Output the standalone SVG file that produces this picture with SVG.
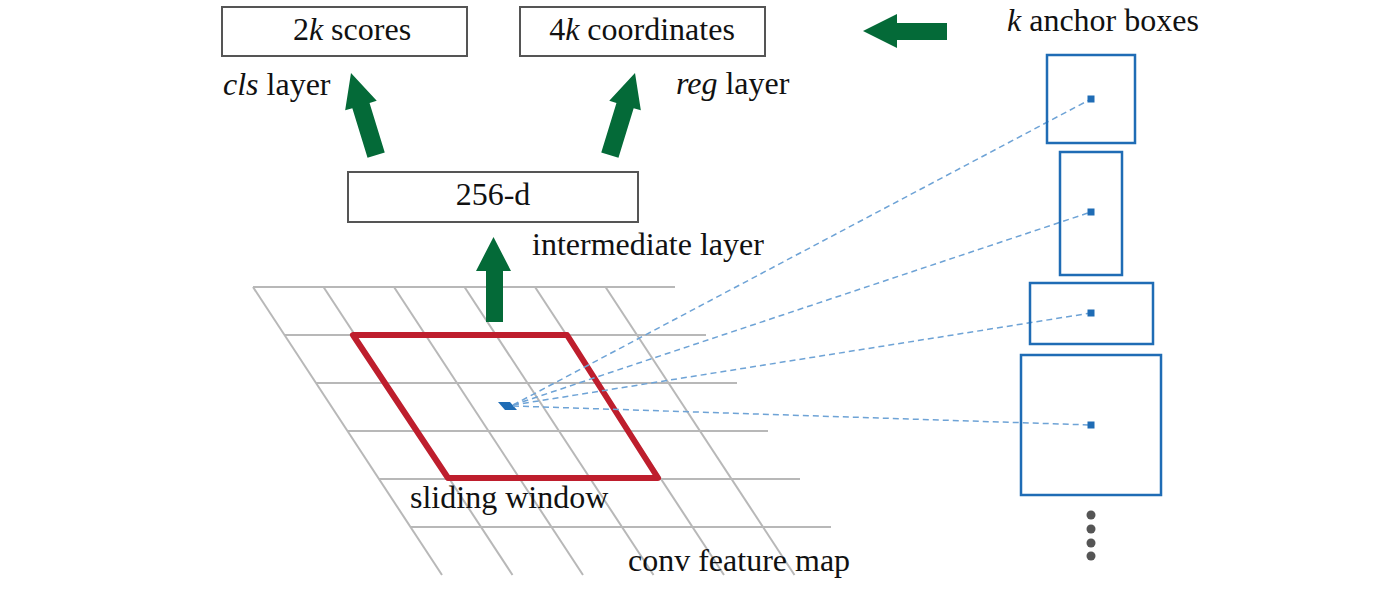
<svg xmlns="http://www.w3.org/2000/svg" width="1400" height="595" viewBox="0 0 1400 595">
<style>
text{font-family:"Liberation Serif","Times New Roman",serif;font-size:32px;fill:#111}
.it{font-style:italic}
.box{fill:#fff;stroke:#555;stroke-width:2}
.grid line{stroke:#b8b8b8;stroke-width:2}
.arrow{fill:#046a38}
.anchor{fill:none;stroke:#1f6cb5;stroke-width:2.5}
.dot{fill:#1f6cb5}
.dash{stroke:#6ea3d6;stroke-width:1.5;stroke-dasharray:6 4;fill:none}
.ell{fill:#555}
</style>
<defs>
<polygon id="upArrow" points="0,0 16.5,34 9,34 9,86 -9,86 -9,34 -16.5,34"/>
</defs>
<rect width="1400" height="595" fill="#fff"/>

<g id="grid" class="grid">
<line x1="253" y1="287" x2="675" y2="287"/>
<line x1="284.5" y1="335" x2="706" y2="335"/>
<line x1="316" y1="383" x2="737" y2="383"/>
<line x1="347.5" y1="431" x2="768" y2="431"/>
<line x1="379" y1="479" x2="800" y2="479"/>
<line x1="410.5" y1="527" x2="831" y2="527"/>
<line x1="253" y1="287" x2="442" y2="575"/>
<line x1="323.5" y1="287" x2="512.5" y2="575"/>
<line x1="394" y1="287" x2="583" y2="575"/>
<line x1="464.5" y1="287" x2="653.5" y2="575"/>
<line x1="535" y1="287" x2="724" y2="575"/>
<line x1="605.5" y1="287" x2="794.5" y2="575"/>
</g>

<g id="sliding-window">
<polygon points="353,335 567,335 658,478 448,478" fill="none" stroke="#be1e2d" stroke-width="6" stroke-linejoin="round"/>
<polygon points="498,402 510,402 517,410 505,410" class="dot"/>
<text x="410" y="508">sliding window</text>
</g>

<g id="connectors">
<line class="dash" x1="513" y1="405" x2="1091" y2="99"/>
<line class="dash" x1="513" y1="405" x2="1091" y2="212"/>
<line class="dash" x1="513" y1="405" x2="1091" y2="313"/>
<line class="dash" x1="513" y1="406" x2="1091" y2="425"/>
<use href="#upArrow" class="arrow" transform="translate(351,73) rotate(-17)"/>
<use href="#upArrow" class="arrow" transform="translate(635,73) rotate(17)"/>
<polygon class="arrow" points="493.5,237 511,271 503,271 503,322 486,322 486,271 476,271"/>
<polygon class="arrow" points="863,31 897,14 897,23 947,23 947,40 897,40 897,48"/>
</g>

<g id="cls-box">
<rect class="box" x="222" y="7" width="245" height="49"/>
<text x="352" y="40" text-anchor="middle">2<tspan class="it">k</tspan> scores</text>
<text x="223" y="95"><tspan class="it">cls</tspan> layer</text>
</g>

<g id="reg-box">
<rect class="box" x="520" y="7" width="245" height="49"/>
<text x="642" y="40" text-anchor="middle">4<tspan class="it">k</tspan> coordinates</text>
<text x="676" y="94"><tspan class="it">reg</tspan> layer</text>
</g>

<g id="intermediate">
<rect class="box" x="348" y="172" width="290" height="50"/>
<text x="493" y="205" text-anchor="middle">256-d</text>
<text x="532" y="255">intermediate layer</text>
</g>

<g id="feature-map-label">
<text x="628" y="571">conv feature map</text>
</g>

<g id="anchors">
<text x="1007" y="31"><tspan class="it">k</tspan> anchor boxes</text>
<rect class="anchor" x="1047" y="55" width="88" height="88"/>
<rect class="dot" x="1087.5" y="95.5" width="7" height="7"/>
<rect class="anchor" x="1060" y="152" width="62" height="123"/>
<rect class="dot" x="1087.5" y="208.5" width="7" height="7"/>
<rect class="anchor" x="1030" y="283" width="123" height="61"/>
<rect class="dot" x="1087.5" y="309.5" width="7" height="7"/>
<rect class="anchor" x="1021" y="355" width="140" height="140"/>
<rect class="dot" x="1087.5" y="421.5" width="7" height="7"/>
<circle class="ell" cx="1091" cy="515" r="4.5"/>
<circle class="ell" cx="1091" cy="529" r="4.5"/>
<circle class="ell" cx="1091" cy="543" r="4.5"/>
<circle class="ell" cx="1091" cy="556" r="4.5"/>
</g>
</svg>
